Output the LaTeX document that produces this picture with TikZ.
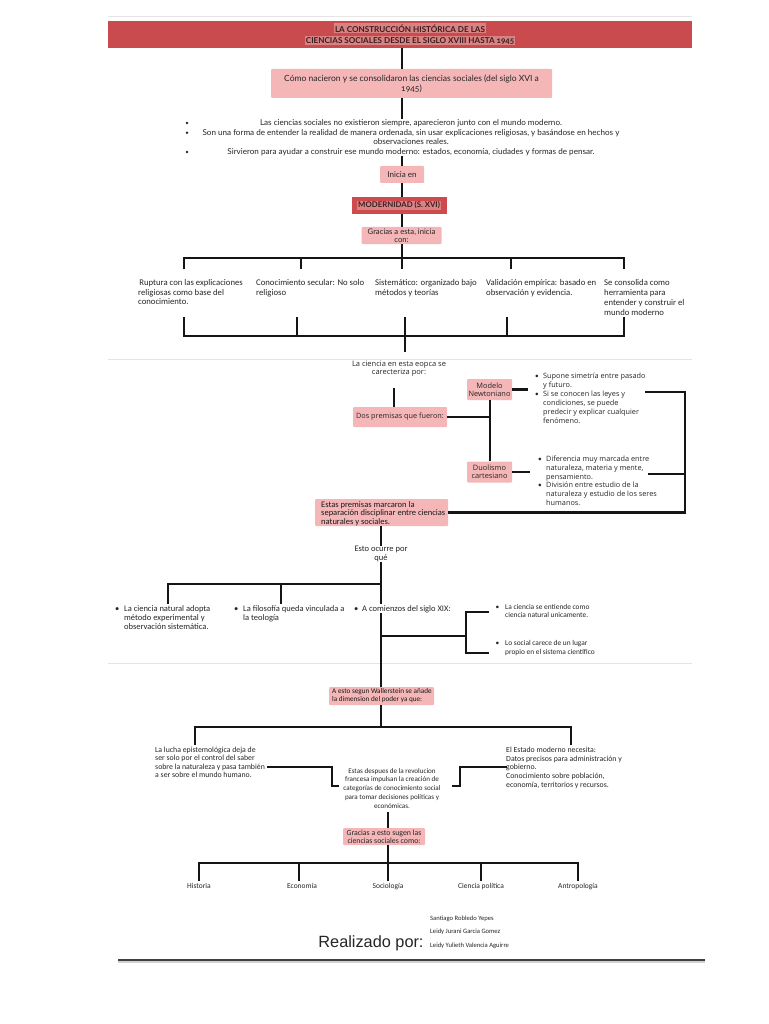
\documentclass[tikz,border=0pt]{standalone}
\usepackage{fontspec}
\setmainfont{Carlito}
\newfontfamily\lato{Lato}[Numbers=OldStyle]
\newfontfamily\osans{Open Sans}
\newfontfamily\libsans{Liberation Sans}
\definecolor{titlered}{HTML}{C94B4E}
\definecolor{titlehl}{HTML}{D98283}
\definecolor{titletext}{HTML}{3A1D1E}
\definecolor{modred}{HTML}{CF4A4F}
\definecolor{pinkc}{HTML}{F5B6B8}
\definecolor{linec}{HTML}{151515}
\definecolor{textc}{HTML}{262626}
\definecolor{sepc}{HTML}{E4E4E4}
\tikzset{
  conn/.style={line width=2.3pt, draw=linec},
  sepline/.style={line width=1pt, draw=sepc},
  pinkbox/.style={fill=pinkc, inner sep=0pt, rounded corners=1pt, text=textc},
  txt/.style={inner sep=0pt, text=textc},
  dot/.style={circle, fill=textc, inner sep=0pt, minimum size=2.8pt},
  hl/.style={inner xsep=1pt, inner ysep=1.2pt, text=titletext},
}
\newcommand{\bl}[1]{\makebox[#1][l]{\rmfamily •}}
\begin{document}
\begin{tikzpicture}[x=1pt,y=-1pt]
\useasboundingbox (0,0) rectangle (768,1024);
\fill[white] (0,0) rectangle (768,1024);
% page separators
\draw[sepline] (108,17) -- (692,17);
\draw[sepline] (108,359) -- (692,359);
\draw[sepline] (108,663) -- (692,663);

% ---------- section 1
\node[fill=titlered, minimum width=584pt, minimum height=27pt, inner sep=0pt] (title) at (400,34.5) {};
\node[hl, fill=titlehl, font=\lato\bfseries\fontsize{8.1}{9}\selectfont] (t1) at (410,28.5) {LA CONSTRUCCIÓN HISTÓRICA DE LAS};
\node[hl, fill=titlehl, font=\lato\bfseries\fontsize{8.1}{9}\selectfont] (t2) at (410,40.5) {CIENCIAS SOCIALES DESDE EL SIGLO XVIII HASTA 1945};
\node[pinkbox, minimum width=281pt, minimum height=29pt, align=center, font=\lato\fontsize{8.5}{10}\selectfont] (cmo) at (411.5,83.5) {Cómo nacieron y se consolidaron las ciencias sociales (del siglo XVI a\\1945)};
\node[txt, anchor=north, align=center, font=\lato\fontsize{8.1}{9.7}\selectfont] (bul) at (411,119.2) {Las ciencias sociales no existieron siempre, aparecieron junto con el mundo moderno.\\Son una forma de entender la realidad de manera ordenada, sin usar explicaciones religiosas, y basándose en hechos y\\observaciones reales.\\Sirvieron para ayudar a construir ese mundo moderno: estados, economía, ciudades y formas de pensar.};
\node[dot] (bd1) at (187,123) {};
\node[dot] (bd2) at (187,132.7) {};
\node[dot] (bd3) at (187,152) {};
\node[pinkbox, minimum width=44pt, minimum height=17pt, font=\lato\fontsize{8}{9}\selectfont] (ini) at (402,174.5) {Inicia en};
\node[fill=modred, minimum width=95pt, minimum height=17pt, inner sep=0pt] (mod) at (399,205.5) {};
\node[hl, fill=titlehl, font=\lato\bfseries\fontsize{7.8}{9}\selectfont] (modt) at (mod) {MODERNIDAD (S. XVI)};
\node[pinkbox, minimum width=80pt, minimum height=17pt, align=center, font=\lato\fontsize{7.7}{7.9}\selectfont] (gra) at (401.5,235.5) {Gracias a esta, inicia\\con:};

\node[txt, anchor=north west, align=left, font=\fontsize{8.7}{9.7}\selectfont] (c1) at (138,279.3) {\hspace*{1.2pt}Ruptura con las explicaciones\\religiosas como base del\\conocimiento.};
\node[txt, anchor=north west, align=left, font=\fontsize{8.7}{9.7}\selectfont] (c2) at (256,279.3) {Conocimiento secular: No solo\\religioso};
\node[txt, anchor=north west, align=left, font=\fontsize{8.7}{9.7}\selectfont] (c3) at (375,279.3) {Sistemático: organizado bajo\\métodos y teorías};
\node[txt, anchor=north west, align=left, font=\fontsize{8.7}{9.7}\selectfont] (c4) at (486,279.3) {Validación empírica: basado en\\observación y evidencia.};
\node[txt, anchor=north west, align=left, font=\fontsize{8.7}{9.9}\selectfont] (c5) at (604,279.3) {Se consolida como\\herramienta para\\entender y construir el\\mundo moderno};

\coordinate (m1) at (402,0);
\draw[conn] (title.south -| m1) -- (cmo.north -| m1);
\draw[conn] (cmo.south -| m1) -- (bul.north -| m1);
\draw[conn] (bul.south -| m1) -- (ini.north -| m1);
\draw[conn] (ini.south -| m1) -- (mod.north -| m1);
\draw[conn] (mod.south -| m1) -- (gra.north -| m1);
\coordinate (ta1) at (184,258); \coordinate (ta1e) at (184,269);
\coordinate (ta2) at (301,258); \coordinate (ta2e) at (301,269);
\coordinate (ta3e) at (402,269);
\coordinate (ta4) at (511,258); \coordinate (ta4e) at (511,269);
\coordinate (ta5) at (624,258); \coordinate (ta5e) at (624,269);
\draw[conn] (ta1e) -- (ta1) -- (ta5) -- (ta5e);
\draw[conn] (gra.south -| m1) -- (ta3e);
\draw[conn] (ta2) -- (ta2e);
\draw[conn] (ta4) -- (ta4e);
\coordinate (bb1) at (184,317); \coordinate (bb1b) at (184,336);
\coordinate (bb2) at (297,317); \coordinate (bb2b) at (297,336);
\coordinate (bb3) at (405,317); \coordinate (bb3e) at (405,352);
\coordinate (bb4) at (507,317); \coordinate (bb4b) at (507,336);
\coordinate (bb5) at (624,317); \coordinate (bb5b) at (624,336);
\draw[conn] (bb1) -- (bb1b) -- (bb5b) -- (bb5);
\draw[conn] (bb2) -- (bb2b);
\draw[conn] (bb3) -- (bb3e);
\draw[conn] (bb4) -- (bb4b);

% ---------- section 2
\node[txt, align=center, font=\osans\fontsize{7.5}{8}\selectfont] (cie) at (399,369) {La ciencia en esta eopca se\\carecteriza por:};
\node[pinkbox, minimum width=94pt, minimum height=20pt, font=\osans\fontsize{7.3}{8}\selectfont] (dos) at (400,417) {Dos premisas que fueron:};
\node[pinkbox, minimum width=45pt, minimum height=21pt, align=center, font=\osans\fontsize{7.4}{8.2}\selectfont] (newt) at (489.5,389.5) {Modelo\\Newtoniano};
\node[pinkbox, minimum width=45pt, minimum height=21pt, align=center, font=\osans\fontsize{7.4}{8.2}\selectfont] (duo) at (489.5,472) {Duolismo\\cartesiano};
\node[txt, anchor=north west, align=left, font=\osans\fontsize{7.3}{9}\selectfont] (nl) at (535,372.8) {\bl{8pt}Supone simetría entre pasado\\\hspace*{8pt}y futuro.\\\bl{8pt}Si se conocen las leyes y\\\hspace*{8pt}condiciones, se puede\\\hspace*{8pt}predecir y explicar cualquier\\\hspace*{8pt}fenómeno.};
\node[txt, anchor=north west, align=left, font=\osans\fontsize{7.3}{8.8}\selectfont] (dl) at (538,455.8) {\bl{8pt}Diferencia muy marcada entre\\\hspace*{8pt}naturaleza, materia y mente,\\\hspace*{8pt}pensamiento.\\\bl{8pt}División entre estudio de la\\\hspace*{8pt}naturaleza y estudio de los seres\\\hspace*{8pt}humanos.};
\node[pinkbox, minimum width=133pt, minimum height=27pt] (est) at (381.5,512.5) {};
\node[txt, anchor=west, align=left, text=black!90, font=\fontsize{8.5}{8.6}\selectfont] (estt) at (321,513.5) {Estas premisas marcaron la\\separación disciplinar entre ciencias\\naturales y sociales.};

\coordinate (cl1) at (394,388);
\draw[conn] (cl1) -- (dos.north -| cl1);
\coordinate (vx) at (490,0);
\draw[conn] (newt.south -| vx) -- (duo.north -| vx);
\draw[conn] (dos.east) -- (dos.east -| vx);
\coordinate (nwe) at (528,389.5);
\draw[conn] (newt.east) -- (nwe);
\coordinate (due) at (530,472);
\draw[conn] (duo.east) -- (due);
\coordinate (rl1) at (645,392); \coordinate (rtop) at (685,392); \coordinate (rl2) at (648,474);
\draw[conn] (rl1) -- (rtop) -- (est.east -| rtop) -- (est.east);
\draw[conn] (rl2) -- (rl2 -| rtop);

% ---------- section 3
\node[txt, align=center, font=\fontsize{8.5}{8.5}\selectfont] (esto) at (381,554) {Esto ocurre por\\qué};
\node[txt, anchor=north west, align=left, font=\fontsize{8.5}{8.7}\selectfont] (l1) at (115,605.5) {\bl{9pt}La ciencia natural adopta\\\hspace*{9pt}método experimental y\\\hspace*{9pt}observación sistemática.};
\node[txt, anchor=north west, align=left, font=\fontsize{8.5}{8.7}\selectfont] (l2) at (234,605.5) {\bl{9pt}La filosofía queda vinculada a\\\hspace*{9pt}la teología};
\node[txt, anchor=north west, align=left, font=\fontsize{8.5}{8.7}\selectfont] (l3) at (354,605.5) {\bl{8pt}A comienzos del siglo XIX:};
\node[txt, anchor=north west, align=left, font=\fontsize{7.4}{8.7}\selectfont] (r1) at (495.3,603.9) {\bl{9.7pt}La ciencia se entiende como\\\hspace*{9.7pt}ciencia natural unicamente.};
\node[txt, anchor=north west, align=left, font=\fontsize{7.4}{9.5}\selectfont] (r2) at (495.3,639.9) {\bl{9.7pt}Lo social carece de un lugar\\\hspace*{9.7pt}propio en el sistema científico};

\coordinate (m2) at (381,0);
\draw[conn] (est.south -| m2) -- (esto.north -| m2);
\coordinate (j4) at (381,584);
\draw[conn] (esto.south -| m2) -- (j4);
\coordinate (d41) at (168,584); \coordinate (d41e) at (168,604);
\coordinate (d42) at (281,584); \coordinate (d42e) at (281,604);
\coordinate (d43e) at (381,604);
\draw[conn] (d41e) -- (d41) -- (j4) -- (d43e);
\draw[conn] (d42) -- (d42e);
\coordinate (j5) at (381,636); \coordinate (bk) at (466,636);
\coordinate (bk1) at (466,612); \coordinate (bk1e) at (489,612);
\coordinate (bk2) at (466,653); \coordinate (bk2e) at (489,653);
\draw[conn] (j5) -- (bk);
\draw[conn] (bk1e) -- (bk1) -- (bk2) -- (bk2e);

% ---------- section 4
\node[pinkbox, minimum width=105pt, minimum height=18pt] (aes) at (381.5,696) {};
\node[txt, anchor=west, align=left, text=black!90, font=\fontsize{7.2}{8}\selectfont] (aest) at (332,695.5) {A esto segun Wallerstein se añade\\la dimension del poder ya que:};
\draw[conn] (l3.south -| m2) -- (aes.north -| m2);
\node[txt, anchor=north west, align=left, font=\fontsize{7.8}{8.5}\selectfont] (ll) at (155,746.8) {La lucha epistemológica deja de\\ser solo por el control del saber\\sobre la naturaleza y pasa también\\a ser sobre el mundo humano.};
\node[txt, anchor=north west, align=left, font=\fontsize{7.8}{8.75}\selectfont] (rr) at (506,746.8) {El Estado moderno necesita:\\Datos precisos para administración y\\gobierno.\\Conocimiento sobre población,\\economía, territorios y recursos.};
\node[txt, anchor=north, align=center, font=\fontsize{7.1}{8.75}\selectfont] (cc) at (392,768) {Estas despues de la revolucion\\francesa impulsan la creación de\\categorías de conocimiento social\\para tomar decisiones políticas y\\económicas.};
\node[pinkbox, minimum width=82pt, minimum height=17pt, align=center, font=\fontsize{7.8}{8}\selectfont] (gr2) at (384,836.5) {Gracias a esto sugen las\\ciencias sociales como:};

\coordinate (j6) at (381,727);
\draw[conn] (aes.south -| m2) -- (j6);
\coordinate (d51) at (195,727); \coordinate (d51e) at (195,745);
\coordinate (d52) at (571,727); \coordinate (d52e) at (571,745);
\draw[conn] (d51e) -- (d51) -- (d52) -- (d52e);
\coordinate (lc1) at (267,767); \coordinate (lc2) at (332,767); \coordinate (lc3) at (332,786); \coordinate (lc4) at (339,786);
\draw[conn] (lc1) -- (lc2) -- (lc3) -- (lc4);
\coordinate (rc1) at (507,767); \coordinate (rc2) at (460,767); \coordinate (rc3) at (460,786); \coordinate (rc4) at (452,786);
\draw[conn] (rc1) -- (rc2) -- (rc3) -- (rc4);
\coordinate (m3) at (388,0);
\coordinate (cc1) at (388,812);
\draw[conn] (cc1) -- (gr2.north -| m3);

% ---------- section 5
\coordinate (d61) at (199,863); \coordinate (d61e) at (199,881);
\coordinate (d62) at (299,863); \coordinate (d62e) at (299,881);
\coordinate (d63e) at (388,881);
\coordinate (d64) at (481,863); \coordinate (d64e) at (481,881);
\coordinate (d65) at (578,863); \coordinate (d65e) at (578,881);
\draw[conn] (d61e) -- (d61) -- (d65) -- (d65e);
\draw[conn] (gr2.south -| m3) -- (d63e);
\draw[conn] (d62) -- (d62e);
\draw[conn] (d64) -- (d64e);
\node[txt, anchor=base, font=\fontsize{7.5}{8}\selectfont] (h1) at (199,888) {Historia};
\node[txt, anchor=base, font=\fontsize{7.5}{8}\selectfont] (h2) at (302,888) {Economía};
\node[txt, anchor=base, font=\fontsize{7.5}{8}\selectfont] (h3) at (388,888) {Sociología};
\node[txt, anchor=base, font=\fontsize{7.5}{8}\selectfont] (h4) at (481,888) {Ciencia política};
\node[txt, anchor=base, font=\fontsize{7.5}{8}\selectfont] (h5) at (578,888) {Antropología};

\node[txt, anchor=base, text=black!85, font=\libsans\fontsize{16.3}{18}\selectfont] (rp) at (371,947) {Realizado por:};
\node[txt, anchor=north west, align=left, font=\fontsize{6.6}{13.8}\selectfont] (nm) at (430,915.3) {Santiago Robledo Yepes\\Leidy Jurani Garcia Gomez\\Leidy Yulieth Valencia Aguirre};
\draw[line width=1.2pt, draw=black!18] (118,962) -- (705,962);
\draw[line width=2pt, draw=black!75] (118,960) -- (705,960);
\end{tikzpicture}
\end{document}
